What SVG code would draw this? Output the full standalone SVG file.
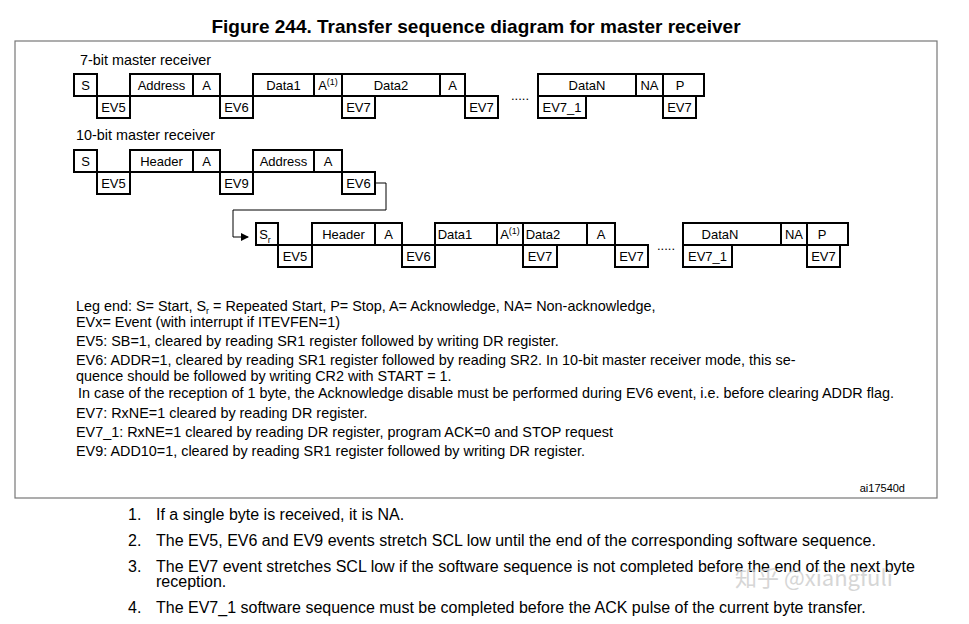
<svg xmlns="http://www.w3.org/2000/svg" width="969" height="624" viewBox="0 0 969 624">
<defs>
<style>
text{font-family:"Liberation Sans",Arial,sans-serif;fill:#000}
.b{fill:#fff;stroke:#000;stroke-width:2}
.l{font-size:13px;text-anchor:middle}
.t{font-size:14.4px}
.n{font-size:16px}
.c{fill:none;stroke:#000;stroke-width:1}
</style>
<marker id="ar" markerWidth="8" markerHeight="8" refX="7" refY="4" orient="auto" markerUnits="userSpaceOnUse"><path d="M0,0L8,4L0,8z"/></marker>
</defs>
<rect width="969" height="624" fill="#fff"/>
<text x="476" y="33" font-size="19" font-weight="bold" text-anchor="middle">Figure 244. Transfer sequence diagram for master receiver</text>
<rect x="15" y="41" width="922" height="457" fill="none" stroke="#777" stroke-width="1.2"/>
<text x="80" y="65" class="t">7-bit master receiver</text>
<text x="76" y="140" class="t">10-bit master receiver</text>

<g id="row1">
<rect class="b" x="74" y="74" width="23" height="22"/><text class="l" x="85.5" y="90">S</text>
<rect class="b" x="97" y="96" width="33" height="22"/><text class="l" x="113.5" y="112">EV5</text>
<rect class="b" x="130" y="74" width="63" height="22"/><text class="l" x="161.5" y="90">Address</text>
<rect class="b" x="193" y="74" width="27" height="22"/><text class="l" x="206.5" y="90">A</text>
<rect class="b" x="220" y="96" width="33" height="22"/><text class="l" x="236.5" y="112">EV6</text>
<rect class="b" x="253" y="74" width="61" height="22"/><text class="l" x="283.5" y="90">Data1</text>
<rect class="b" x="314" y="74" width="28" height="22"/><text class="l" x="328" y="90">A<tspan font-size="9" dy="-5">(1)</tspan></text>
<rect class="b" x="342" y="74" width="98" height="22"/><text class="l" x="391" y="90">Data2</text>
<rect class="b" x="440" y="74" width="25" height="22"/><text class="l" x="452.5" y="90">A</text>
<rect class="b" x="342" y="96" width="33" height="22"/><text class="l" x="358.5" y="112">EV7</text>
<rect class="b" x="465" y="96" width="33" height="22"/><text class="l" x="481.5" y="112">EV7</text>
<text class="l" x="520" y="100">.....</text>
<rect class="b" x="538" y="74" width="98" height="22"/><text class="l" x="587" y="90">DataN</text>
<rect class="b" x="636" y="74" width="27" height="22"/><text class="l" x="649.5" y="90">NA</text>
<rect class="b" x="663" y="74" width="41" height="22"/><text class="l" x="680" y="90">P</text>
<rect class="b" x="538" y="96" width="48" height="22"/><text class="l" x="562" y="112">EV7_1</text>
<rect class="b" x="663" y="96" width="33" height="22"/><text class="l" x="679.5" y="112">EV7</text>
</g>

<g id="row2">
<rect class="b" x="74" y="150" width="23" height="22"/><text class="l" x="85.5" y="166">S</text>
<rect class="b" x="97" y="172" width="33" height="22"/><text class="l" x="113.5" y="188">EV5</text>
<rect class="b" x="130" y="150" width="63" height="22"/><text class="l" x="161.5" y="166">Header</text>
<rect class="b" x="193" y="150" width="27" height="22"/><text class="l" x="206.5" y="166">A</text>
<rect class="b" x="220" y="172" width="33" height="22"/><text class="l" x="236.5" y="188">EV9</text>
<rect class="b" x="253" y="150" width="61" height="22"/><text class="l" x="283.5" y="166">Address</text>
<rect class="b" x="314" y="150" width="28" height="22"/><text class="l" x="328" y="166">A</text>
<rect class="b" x="342" y="172" width="33" height="22"/><text class="l" x="358.5" y="188">EV6</text>
</g>

<g id="connectors">
<path class="c" d="M375,183H386V210H233V237H248" marker-end="url(#ar)"/>
</g>

<g id="row3">
<rect class="b" x="256" y="223" width="22" height="22"/><text class="l" x="265" y="239">S<tspan font-size="9" dy="4">r</tspan></text>
<rect class="b" x="278" y="245" width="34" height="22"/><text class="l" x="295" y="261">EV5</text>
<rect class="b" x="312" y="223" width="63" height="22"/><text class="l" x="343.5" y="239">Header</text>
<rect class="b" x="375" y="223" width="27" height="22"/><text class="l" x="388.5" y="239">A</text>
<rect class="b" x="402" y="245" width="33" height="22"/><text class="l" x="418.5" y="261">EV6</text>
<rect class="b" x="435" y="223" width="62" height="22"/><text class="l" x="455" y="239">Data1</text>
<rect class="b" x="497" y="223" width="26" height="22"/><text class="l" x="510" y="239">A<tspan font-size="9" dy="-5">(1)</tspan></text>
<rect class="b" x="523" y="223" width="64" height="22"/><text class="l" x="543" y="239">Data2</text>
<rect class="b" x="587" y="223" width="28" height="22"/><text class="l" x="601" y="239">A</text>
<rect class="b" x="523" y="245" width="34" height="22"/><text class="l" x="540" y="261">EV7</text>
<rect class="b" x="615" y="245" width="33" height="22"/><text class="l" x="631.5" y="261">EV7</text>
<text class="l" x="666" y="250">.....</text>
<rect class="b" x="683" y="223" width="98" height="22"/><text class="l" x="720" y="239">DataN</text>
<rect class="b" x="781" y="223" width="26" height="22"/><text class="l" x="794" y="239">NA</text>
<rect class="b" x="807" y="223" width="41" height="22"/><text class="l" x="822" y="239">P</text>
<rect class="b" x="683" y="245" width="49" height="22"/><text class="l" x="707.5" y="261">EV7_1</text>
<rect class="b" x="807" y="245" width="33" height="22"/><text class="l" x="823.5" y="261">EV7</text>
</g>

<g id="legend" class="t">
<text x="76" y="311">Leg end: S= Start, S<tspan font-size="9" dy="3">r</tspan><tspan dy="-3"> = Repeated Start, P= Stop, A= Acknowledge, NA= Non-acknowledge,</tspan></text>
<text x="76" y="327">EVx= Event (with interrupt if ITEVFEN=1)</text>
<text x="76" y="346">EV5: SB=1, cleared by reading SR1 register followed by writing DR register.</text>
<text x="76" y="365">EV6: ADDR=1, cleared by reading SR1 register followed by reading SR2. In 10-bit master receiver mode, this se-</text>
<text x="76" y="381">quence should be followed by writing CR2 with START = 1.</text>
<text x="78" y="398">In case of the reception of 1 byte, the Acknowledge disable must be performed during EV6 event, i.e. before clearing ADDR flag.</text>
<text x="76" y="418">EV7: RxNE=1 cleared by reading DR register.</text>
<text x="76" y="437">EV7_1: RxNE=1 cleared by reading DR register, program ACK=0 and STOP request</text>
<text x="76" y="456">EV9: ADD10=1, cleared by reading SR1 register followed by writing DR register.</text>
</g>
<text x="905" y="492" font-size="11" text-anchor="end">ai17540d</text>

<g id="notes" class="n">
<text x="128" y="520">1.</text><text x="156" y="520">If a single byte is received, it is NA.</text>
<text x="128" y="546">2.</text><text x="156" y="546">The EV5, EV6 and EV9 events stretch SCL low until the end of the corresponding software sequence.</text>
<text x="128" y="572">3.</text><text x="156" y="572">The EV7 event stretches SCL low if the software sequence is not completed before the end of the next byte</text>
<text x="156" y="587">reception.</text>
<text x="128" y="613">4.</text><text x="156" y="613">The EV7_1 software sequence must be completed before the ACK pulse of the current byte transfer.</text>
</g>
<text x="735" y="586" font-size="22" style="fill:#ccc;font-family:'Noto Sans CJK SC','Liberation Sans',sans-serif" opacity="0.8">知乎 @xiangfuli</text>
</svg>
